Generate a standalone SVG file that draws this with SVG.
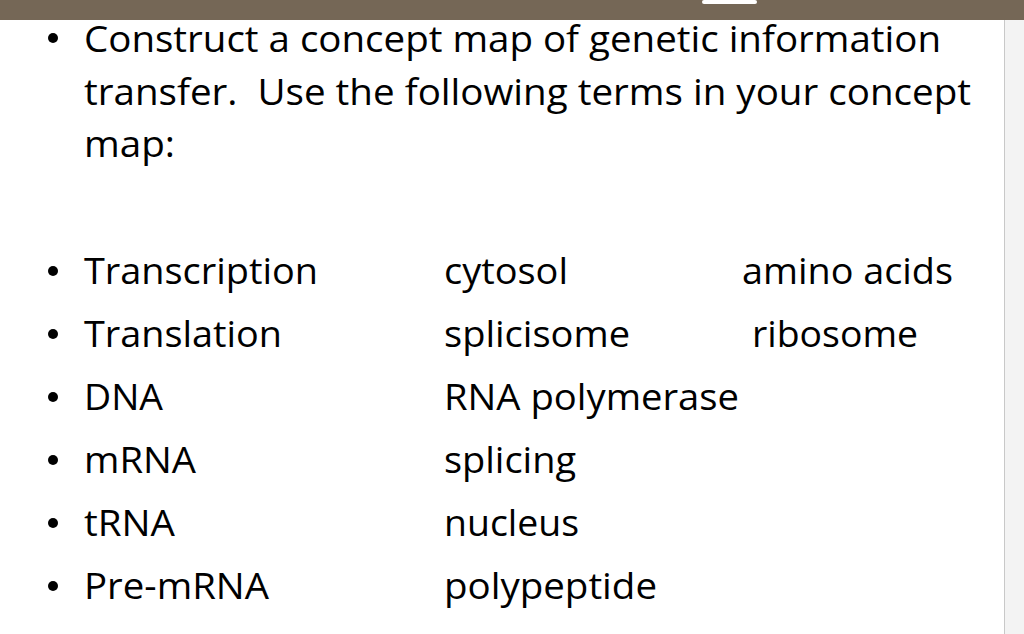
<svg xmlns="http://www.w3.org/2000/svg" width="1024" height="634" viewBox="0 0 1024 634">
<style>
text{font-family:"Open Sans","Liberation Sans",sans-serif;font-size:36px;fill:#000}
</style>
<rect width="1024" height="634" fill="#fff"/>
<rect x="1005" y="0" width="19" height="634" fill="#f3f3f3"/>
<line x1="1004.5" y1="20" x2="1004.5" y2="634" stroke="#c8c8c8"/>
<rect width="1024" height="20" fill="#756756"/>
<rect x="702" y="0" width="55" height="4" rx="2" fill="#fff"/>
<g fill="#000">
<circle cx="53" cy="38" r="5"/>
<circle cx="53" cy="271" r="5"/><circle cx="53" cy="334" r="5"/><circle cx="53" cy="397" r="5"/>
<circle cx="53" cy="460" r="5"/><circle cx="53" cy="523" r="5"/><circle cx="53" cy="586" r="5"/>
</g>
<text x="84" y="52" textLength="857" lengthAdjust="spacingAndGlyphs">Construct a concept map of genetic information</text>
<text x="84" y="105" textLength="887" lengthAdjust="spacingAndGlyphs" xml:space="preserve">transfer.  Use the following terms in your concept</text>
<text x="84" y="157" textLength="91" lengthAdjust="spacingAndGlyphs">map:</text>
<text x="84" y="284" textLength="234" lengthAdjust="spacingAndGlyphs">Transcription</text>
<text x="84" y="347" textLength="198" lengthAdjust="spacingAndGlyphs">Translation</text>
<text x="84" y="410" textLength="79" lengthAdjust="spacingAndGlyphs">DNA</text>
<text x="84" y="473" textLength="112" lengthAdjust="spacingAndGlyphs">mRNA</text>
<text x="84" y="536" textLength="91" lengthAdjust="spacingAndGlyphs">tRNA</text>
<text x="84" y="599" textLength="185" lengthAdjust="spacingAndGlyphs">Pre-mRNA</text>
<text x="444" y="284" textLength="124" lengthAdjust="spacingAndGlyphs">cytosol</text>
<text x="444" y="347" textLength="186" lengthAdjust="spacingAndGlyphs">splicisome</text>
<text x="444" y="410" textLength="295" lengthAdjust="spacingAndGlyphs">RNA polymerase</text>
<text x="444" y="473" textLength="132" lengthAdjust="spacingAndGlyphs">splicing</text>
<text x="444" y="536" textLength="135" lengthAdjust="spacingAndGlyphs">nucleus</text>
<text x="444" y="599" textLength="213" lengthAdjust="spacingAndGlyphs">polypeptide</text>
<text x="742" y="284" textLength="211" lengthAdjust="spacingAndGlyphs">amino acids</text>
<text x="752" y="347" textLength="166" lengthAdjust="spacingAndGlyphs">ribosome</text>
</svg>
